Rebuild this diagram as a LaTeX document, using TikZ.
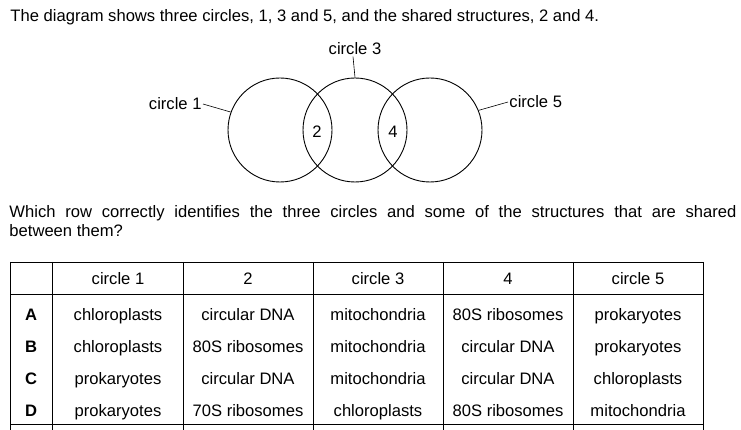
\documentclass[tikz,border=0pt]{standalone}
\usepackage{fontspec}
\setmainfont{Liberation Sans}
\tikzset{
  lbl/.style={font=\fontsize{16.6}{19}\selectfont, inner sep=1pt},
  ring/.style={draw, circle, minimum size=104pt, inner sep=0pt},
  cell/.style={font=\fontsize{16.6}{19}\selectfont, inner sep=0pt, anchor=base}
}
\begin{document}
\begin{tikzpicture}[x=1pt, y=-1pt, line width=0.9pt]
	\useasboundingbox (0, 0) rectangle (741, 430);
	%\draw[lightgray] (0, 0) grid[step=50] (741, 430);
	\node[lbl, anchor=base west] (intro) at (9, 22) {The diagram shows three circles, 1, 3 and 5, and the shared structures, 2 and 4.};
	
	\node[ring] (c1) at (280, 130) {};
	\node[ring] (c3) at (355, 130) {};
	\node[ring] (c5) at (430, 130) {};
	\node[lbl, anchor=base] (n2) at (317, 138) {2};
	\node[lbl, anchor=base] (n4) at (393, 138) {4};
	
	\node[lbl] (t3) at (355, 49) {circle 3};
	\node[lbl, anchor=east] (t1) at (203, 104) {circle 1};
	\node[lbl, anchor=west] (t5) at (508, 102) {circle 5};
	\draw[line width=0.6pt] (t3.south) ++(-2, 0) -- (c3.north);
	\draw[line width=0.6pt] (t1.east) -- (c1.160);
	\draw[line width=0.6pt] (t5.west) -- (c5.22);
	
	\node[lbl, anchor=north west, text width=727pt, align=justify, inner sep=0pt] (ask) at (9, 205)
		{Which row correctly identifies the three circles and some of the structures that are shared\linebreak between them?};
	
	% table
	\draw (10, 262) -- (703, 262);
	\draw (10, 294) -- (703, 294);
	\draw (10, 424) -- (703, 424);
	\foreach \x in {10, 52, 183, 313, 443, 573, 703}
		\draw (\x, 262) -- (\x, 430);
	
	\foreach \h [count=\i] in {circle 1, 2, circle 3, 4, circle 5}
		\node[cell] (h\i) at (118 + 130*\i - 130, 284) {\h};
	
	\foreach \r/\a/\b/\c/\d/\e [count=\j] in {
		A/chloroplasts/circular DNA/mitochondria/80S ribosomes/prokaryotes,
		B/chloroplasts/80S ribosomes/mitochondria/circular DNA/prokaryotes,
		C/prokaryotes/circular DNA/mitochondria/circular DNA/chloroplasts,
		D/prokaryotes/70S ribosomes/chloroplasts/80S ribosomes/mitochondria}
	{
		\node[cell, font=\fontsize{16.6}{19}\selectfont\bfseries] (r\j) at (31, 288 + 32*\j) {\r};
		\node[cell] (r\j a) at (118, 288 + 32*\j) {\a};
		\node[cell] (r\j b) at (248, 288 + 32*\j) {\b};
		\node[cell] (r\j c) at (378, 288 + 32*\j) {\c};
		\node[cell] (r\j d) at (508, 288 + 32*\j) {\d};
		\node[cell] (r\j e) at (638, 288 + 32*\j) {\e};
	}
\end{tikzpicture}
\end{document}
